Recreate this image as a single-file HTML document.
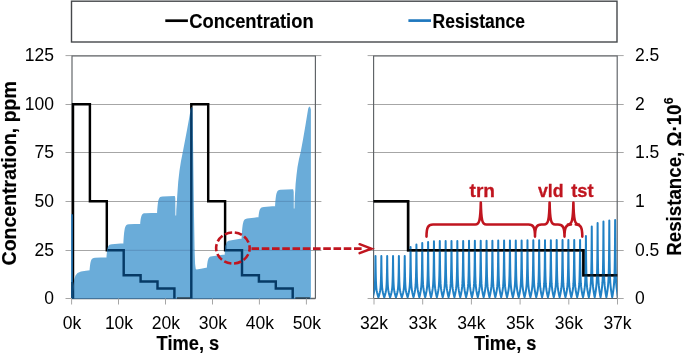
<!DOCTYPE html>
<html><head><meta charset="utf-8"><title>Concentration and Resistance</title>
<style>html,body{margin:0;padding:0;background:#fff}svg{display:block}text{font-family:"Liberation Sans",sans-serif}.b{font-weight:bold;stroke:#000;stroke-width:.15px}</style></head><body>
<svg width="685" height="354" viewBox="0 0 685 354">
<rect width="685" height="354" fill="#fff"/>
<rect x="71.5" y="1.2" width="545.5" height="40.8" fill="#fff" stroke="#45484b" stroke-width="1.4"/>
<path d="M65.5,55.6H321.4 M367.6,55.6H623.7 M65.5,104.5H321.4 M367.6,104.5H623.7 M65.5,152.5H321.4 M367.6,152.5H623.7 M65.5,201.5H321.4 M367.6,201.5H623.7 M65.5,250.5H321.4 M367.6,250.5H623.7" stroke="#a6a6a6" stroke-width="1" fill="none"/>
<path d="M72.0,298.5V56.0H315.4V298.5M315.4,298.5H311 M373.6,56.0H617.2V298.5H373.6Z" fill="none" stroke="#5d6165" stroke-width="1.15"/>
<defs><clipPath id="cb"><path d="M72.6,298.5 L73.2,288 L74.2,279.5 L75.5,275.5 L77.5,273 L81,271.6 L86,270.8 L89.9,270.2 L89.55,270.2 L89.67,268.76 L89.8,267.4 L89.95,266.03 L90.15,264.52 L90.35,263.29 L90.6,262.07 L90.85,261.13 L91.15,260.28 L91.55,259.48 L92.05,258.85 L92.65,258.41 L93.55,258.08 L95.05,257.85 L106.5,257.2 L106.9,257.7 L106.45,257.2 L106.57,255.7 L106.7,254.28 L106.85,252.86 L107.05,251.28 L107.25,249.99 L107.5,248.72 L107.75,247.73 L108.05,246.84 L108.45,246.0 L108.95,245.33 L109.55,244.86 L110.45,244.49 L111.95,244.23 L123.4,243.3 L123.8,243.8 L123.35,243.3 L123.47,241.06 L123.6,238.92 L123.75,236.8 L123.95,234.44 L124.15,232.52 L124.4,230.63 L124.65,229.17 L124.95,227.86 L125.35,226.63 L125.85,225.67 L126.45,225.0 L127.35,224.52 L128.85,224.24 L140.2,223.7 L140.6,224.2 L140.15,223.7 L140.27,222.47 L140.4,221.29 L140.55,220.12 L140.75,218.82 L140.95,217.76 L141.2,216.72 L141.45,215.91 L141.75,215.19 L142.15,214.51 L142.65,213.97 L143.25,213.6 L144.15,213.32 L145.65,213.14 L157.1,212.7 L157.5,213.2 L157.05,212.7 L157.17,210.79 L157.3,208.97 L157.45,207.16 L157.65,205.15 L157.85,203.52 L158.1,201.9 L158.35,200.66 L158.65,199.54 L159.05,198.49 L159.55,197.67 L160.15,197.1 L161.05,196.69 L162.55,196.44 L174.6,195.9 L175.0,196.4 L175.3,198.5 L175.4,215.6 L176.15,215.6 L176.3,210 L176.7,204 L177.2,196 L178.2,182 L179.5,170.5 L181,161 L183,151 L185,140.5 L187,130 L189,119 L190.8,108.6 L191.6,107.4 L192.5,107.8 L192.9,130 L193.4,170 L194.0,215 L194.6,250 L195.1,264 L195.7,268.8 L196.5,269.5 L201,268.8 L207.3,267.5 L206.85,267.5 L206.97,266.23 L207.1,265.02 L207.25,263.81 L207.45,262.45 L207.65,261.35 L207.9,260.25 L208.15,259.4 L208.45,258.62 L208.85,257.88 L209.35,257.28 L209.95,256.84 L210.85,256.46 L212.35,256.15 L224.7,254.5 L225.1,255.0 L224.65,254.5 L224.77,252.92 L224.9,251.41 L225.05,249.91 L225.25,248.23 L225.45,246.86 L225.7,245.5 L225.95,244.44 L226.25,243.47 L226.65,242.55 L227.15,241.8 L227.75,241.25 L228.65,240.79 L230.15,240.39 L241.6,238.5 L242.0,239.0 L241.55,238.5 L241.67,236.21 L241.8,234.03 L241.95,231.85 L242.15,229.43 L242.35,227.46 L242.6,225.51 L242.85,224.0 L243.15,222.63 L243.55,221.34 L244.05,220.31 L244.65,219.58 L245.55,219.01 L247.05,218.6 L258.5,217.1 L258.9,217.6 L258.45,217.1 L258.57,215.96 L258.7,214.87 L258.85,213.79 L259.05,212.58 L259.25,211.6 L259.5,210.62 L259.75,209.86 L260.05,209.18 L260.45,208.53 L260.95,208.0 L261.55,207.62 L262.45,207.32 L263.95,207.08 L275.1,206.1 L275.5,206.6 L275.05,206.1 L275.17,204.19 L275.3,202.37 L275.45,200.56 L275.65,198.55 L275.85,196.92 L276.1,195.3 L276.35,194.06 L276.65,192.93 L277.05,191.88 L277.55,191.06 L278.15,190.49 L279.05,190.07 L280.55,189.81 L292.9,189.2 L293.3,189.7 L293.7,192 L293.8,208.6 L294.5,208.6 L294.6,203 L294.9,196 L295.6,184 L296.5,175 L297.5,167 L299,159 L300.6,152.6 L303,139.5 L305.5,125 L308.2,108.5 L309.2,106.6 L310.2,107.2 L310.9,109.5 L310.9,298.5Z"/><rect x="71.3" y="215" width="1.6" height="84"/></clipPath><clipPath id="ce"><path d="M72.6,298.5 L73.2,288 L74.2,279.5 L75.5,275.5 L77.5,273 L81,271.6 L86,270.8 L89.9,270.2 L89.55,270.2 L89.67,268.76 L89.8,267.4 L89.95,266.03 L90.15,264.52 L90.35,263.29 L90.6,262.07 L90.85,261.13 L91.15,260.28 L91.55,259.48 L92.05,258.85 L92.65,258.41 L93.55,258.08 L95.05,257.85 L106.5,257.2 L106.9,257.7 L106.45,257.2 L106.57,255.7 L106.7,254.28 L106.85,252.86 L107.05,251.28 L107.25,249.99 L107.5,248.72 L107.75,247.73 L108.05,246.84 L108.45,246.0 L108.95,245.33 L109.55,244.86 L110.45,244.49 L111.95,244.23 L123.4,243.3 L123.8,243.8 L123.35,243.3 L123.47,241.06 L123.6,238.92 L123.75,236.8 L123.95,234.44 L124.15,232.52 L124.4,230.63 L124.65,229.17 L124.95,227.86 L125.35,226.63 L125.85,225.67 L126.45,225.0 L127.35,224.52 L128.85,224.24 L140.2,223.7 L140.6,224.2 L140.15,223.7 L140.27,222.47 L140.4,221.29 L140.55,220.12 L140.75,218.82 L140.95,217.76 L141.2,216.72 L141.45,215.91 L141.75,215.19 L142.15,214.51 L142.65,213.97 L143.25,213.6 L144.15,213.32 L145.65,213.14 L157.1,212.7 L157.5,213.2 L157.05,212.7 L157.17,210.79 L157.3,208.97 L157.45,207.16 L157.65,205.15 L157.85,203.52 L158.1,201.9 L158.35,200.66 L158.65,199.54 L159.05,198.49 L159.55,197.67 L160.15,197.1 L161.05,196.69 L162.55,196.44 L174.6,195.9 L175.0,196.4 L175.3,198.5 L175.4,215.6 L176.15,215.6 L176.3,210 L176.7,204 L177.2,196 L178.2,182 L179.5,170.5 L181,161 L183,151 L185,140.5 L187,130 L189,119 L190.8,108.6 L191.6,107.4 L192.5,107.8 L192.9,130 L193.4,170 L194.0,215 L194.6,250 L195.1,264 L195.7,268.8 L196.5,269.5 L201,268.8 L207.3,267.5 L206.85,267.5 L206.97,266.23 L207.1,265.02 L207.25,263.81 L207.45,262.45 L207.65,261.35 L207.9,260.25 L208.15,259.4 L208.45,258.62 L208.85,257.88 L209.35,257.28 L209.95,256.84 L210.85,256.46 L212.35,256.15 L224.7,254.5 L225.1,255.0 L224.65,254.5 L224.77,252.92 L224.9,251.41 L225.05,249.91 L225.25,248.23 L225.45,246.86 L225.7,245.5 L225.95,244.44 L226.25,243.47 L226.65,242.55 L227.15,241.8 L227.75,241.25 L228.65,240.79 L230.15,240.39 L241.6,238.5 L242.0,239.0 L241.55,238.5 L241.67,236.21 L241.8,234.03 L241.95,231.85 L242.15,229.43 L242.35,227.46 L242.6,225.51 L242.85,224.0 L243.15,222.63 L243.55,221.34 L244.05,220.31 L244.65,219.58 L245.55,219.01 L247.05,218.6 L258.5,217.1 L258.9,217.6 L258.45,217.1 L258.57,215.96 L258.7,214.87 L258.85,213.79 L259.05,212.58 L259.25,211.6 L259.5,210.62 L259.75,209.86 L260.05,209.18 L260.45,208.53 L260.95,208.0 L261.55,207.62 L262.45,207.32 L263.95,207.08 L275.1,206.1 L275.5,206.6 L275.05,206.1 L275.17,204.19 L275.3,202.37 L275.45,200.56 L275.65,198.55 L275.85,196.92 L276.1,195.3 L276.35,194.06 L276.65,192.93 L277.05,191.88 L277.55,191.06 L278.15,190.49 L279.05,190.07 L280.55,189.81 L292.9,189.2 L293.3,189.7 L293.7,192 L293.8,208.6 L294.5,208.6 L294.6,203 L294.9,196 L295.6,184 L296.5,175 L297.5,167 L299,159 L300.6,152.6 L303,139.5 L305.5,125 L308.2,108.5 L309.2,106.6 L310.2,107.2 L310.9,109.5 L310.9,298.5Z"/></clipPath><clipPath id="cl"><rect x="60" y="50" width="260" height="249.1"/></clipPath></defs>
<path d="M72.0,298.5H315.4" stroke="#63676a" stroke-width="1.3"/>
<g clip-path="url(#cl)">
<path d="M73.0,299.5V104.2H89.9V201.2H106.8V250.3H123.7V275.3H140.6V281.5H157.5V288.5H174.4V299.5M191.3,299.5V104.2H208.2V201.2H225.1V250.3H242.0V275.3H258.9V281.5H275.8V288.5H292.7V299.5" fill="none" stroke="#000" stroke-width="2.45" stroke-linejoin="miter"/>
<path d="M72.6,298.5 L73.2,288 L74.2,279.5 L75.5,275.5 L77.5,273 L81,271.6 L86,270.8 L89.9,270.2 L89.55,270.2 L89.67,268.76 L89.8,267.4 L89.95,266.03 L90.15,264.52 L90.35,263.29 L90.6,262.07 L90.85,261.13 L91.15,260.28 L91.55,259.48 L92.05,258.85 L92.65,258.41 L93.55,258.08 L95.05,257.85 L106.5,257.2 L106.9,257.7 L106.45,257.2 L106.57,255.7 L106.7,254.28 L106.85,252.86 L107.05,251.28 L107.25,249.99 L107.5,248.72 L107.75,247.73 L108.05,246.84 L108.45,246.0 L108.95,245.33 L109.55,244.86 L110.45,244.49 L111.95,244.23 L123.4,243.3 L123.8,243.8 L123.35,243.3 L123.47,241.06 L123.6,238.92 L123.75,236.8 L123.95,234.44 L124.15,232.52 L124.4,230.63 L124.65,229.17 L124.95,227.86 L125.35,226.63 L125.85,225.67 L126.45,225.0 L127.35,224.52 L128.85,224.24 L140.2,223.7 L140.6,224.2 L140.15,223.7 L140.27,222.47 L140.4,221.29 L140.55,220.12 L140.75,218.82 L140.95,217.76 L141.2,216.72 L141.45,215.91 L141.75,215.19 L142.15,214.51 L142.65,213.97 L143.25,213.6 L144.15,213.32 L145.65,213.14 L157.1,212.7 L157.5,213.2 L157.05,212.7 L157.17,210.79 L157.3,208.97 L157.45,207.16 L157.65,205.15 L157.85,203.52 L158.1,201.9 L158.35,200.66 L158.65,199.54 L159.05,198.49 L159.55,197.67 L160.15,197.1 L161.05,196.69 L162.55,196.44 L174.6,195.9 L175.0,196.4 L175.3,198.5 L175.4,215.6 L176.15,215.6 L176.3,210 L176.7,204 L177.2,196 L178.2,182 L179.5,170.5 L181,161 L183,151 L185,140.5 L187,130 L189,119 L190.8,108.6 L191.6,107.4 L192.5,107.8 L192.9,130 L193.4,170 L194.0,215 L194.6,250 L195.1,264 L195.7,268.8 L196.5,269.5 L201,268.8 L207.3,267.5 L206.85,267.5 L206.97,266.23 L207.1,265.02 L207.25,263.81 L207.45,262.45 L207.65,261.35 L207.9,260.25 L208.15,259.4 L208.45,258.62 L208.85,257.88 L209.35,257.28 L209.95,256.84 L210.85,256.46 L212.35,256.15 L224.7,254.5 L225.1,255.0 L224.65,254.5 L224.77,252.92 L224.9,251.41 L225.05,249.91 L225.25,248.23 L225.45,246.86 L225.7,245.5 L225.95,244.44 L226.25,243.47 L226.65,242.55 L227.15,241.8 L227.75,241.25 L228.65,240.79 L230.15,240.39 L241.6,238.5 L242.0,239.0 L241.55,238.5 L241.67,236.21 L241.8,234.03 L241.95,231.85 L242.15,229.43 L242.35,227.46 L242.6,225.51 L242.85,224.0 L243.15,222.63 L243.55,221.34 L244.05,220.31 L244.65,219.58 L245.55,219.01 L247.05,218.6 L258.5,217.1 L258.9,217.6 L258.45,217.1 L258.57,215.96 L258.7,214.87 L258.85,213.79 L259.05,212.58 L259.25,211.6 L259.5,210.62 L259.75,209.86 L260.05,209.18 L260.45,208.53 L260.95,208.0 L261.55,207.62 L262.45,207.32 L263.95,207.08 L275.1,206.1 L275.5,206.6 L275.05,206.1 L275.17,204.19 L275.3,202.37 L275.45,200.56 L275.65,198.55 L275.85,196.92 L276.1,195.3 L276.35,194.06 L276.65,192.93 L277.05,191.88 L277.55,191.06 L278.15,190.49 L279.05,190.07 L280.55,189.81 L292.9,189.2 L293.3,189.7 L293.7,192 L293.8,208.6 L294.5,208.6 L294.6,203 L294.9,196 L295.6,184 L296.5,175 L297.5,167 L299,159 L300.6,152.6 L303,139.5 L305.5,125 L308.2,108.5 L309.2,106.6 L310.2,107.2 L310.9,109.5 L310.9,298.5Z" fill="#6aacd9"/>
<rect x="71.5" y="215" width="1.2" height="84" fill="#3a8ccb"/>
<path d="M72.4,298.6H311" stroke="#3d6f98" stroke-width="0.9"/>
<path d="M72,104.4H312 M72,152.6H312 M72,201.4H312 M72,250.3H312" stroke="#5a92bd" stroke-width="1" clip-path="url(#ce)"/>
<path d="M73.0,299.5V104.2H89.9V201.2H106.8V250.3H123.7V275.3H140.6V281.5H157.5V288.5H174.4V299.5M191.3,299.5V104.2H208.2V201.2H225.1V250.3H242.0V275.3H258.9V281.5H275.8V288.5H292.7V299.5" fill="none" stroke="#063a66" stroke-width="2.45" stroke-linejoin="miter" clip-path="url(#cb)"/>
<path d="M177.0,297.9H190.1 M295.3,297.9H309.9" fill="none" stroke="#111" stroke-width="1.05"/>
</g>
<path d="M373.6,201.2H408.1V250.3H583.4V275.3H617.2" fill="none" stroke="#000" stroke-width="2.45"/>
<clipPath id="cr"><rect x="373.6" y="56.0" width="243.60000000000002" height="242.5"/></clipPath>
<path d="M366.73,297.3L367.15,296.1L367.55,294.7L367.85,293.5L368.15,292.2L368.40,290.9L368.65,289.3L368.85,287.5L369.05,284.6L369.20,281.3L369.35,276.3L369.45,271.5L369.55,264.9L369.65,255.9L369.75,264.9L369.85,271.5L369.95,276.3L370.10,281.3L370.25,284.6L370.45,287.5L370.65,289.3L370.90,290.9L371.15,292.2L371.45,293.5L371.75,294.7L372.15,296.1L372.58,297.3L373.00,296.1L373.40,294.7L373.70,293.5L374.00,292.2L374.25,290.9L374.50,289.3L374.70,287.5L374.90,284.6L375.05,281.3L375.20,276.3L375.30,271.5L375.40,264.9L375.50,255.9L375.60,264.9L375.70,271.5L375.80,276.3L375.95,281.3L376.10,284.6L376.30,287.5L376.50,289.3L376.75,290.9L377.00,292.2L377.30,293.5L377.60,294.7L378.00,296.1L378.42,297.3L378.85,296.1L379.25,294.7L379.55,293.5L379.85,292.2L380.10,290.9L380.35,289.3L380.55,287.5L380.75,284.6L380.90,281.3L381.05,276.3L381.15,271.5L381.25,264.9L381.35,255.9L381.45,264.9L381.55,271.5L381.65,276.3L381.80,281.3L381.95,284.6L382.15,287.5L382.35,289.3L382.60,290.9L382.85,292.2L383.15,293.5L383.45,294.7L383.85,296.1L384.27,297.3L384.69,296.1L385.09,294.7L385.39,293.5L385.69,292.2L385.94,290.9L386.19,289.3L386.39,287.5L386.59,284.6L386.74,281.3L386.89,276.3L386.99,271.5L387.09,264.9L387.19,255.9L387.29,264.9L387.39,271.5L387.49,276.3L387.64,281.3L387.79,284.6L387.99,287.5L388.19,289.3L388.44,290.9L388.69,292.2L388.99,293.5L389.29,294.7L389.69,296.1L390.11,297.3L390.54,296.1L390.94,294.7L391.24,293.5L391.54,292.2L391.79,290.9L392.04,289.3L392.24,287.5L392.44,284.6L392.59,281.3L392.74,276.3L392.84,271.5L392.94,264.9L393.04,255.9L393.14,264.9L393.24,271.5L393.34,276.3L393.49,281.3L393.64,284.6L393.84,287.5L394.04,289.3L394.29,290.9L394.54,292.2L394.84,293.5L395.14,294.7L395.54,296.1L395.96,297.3L396.38,296.1L396.78,294.7L397.08,293.5L397.38,292.2L397.63,290.9L397.88,289.3L398.08,287.5L398.28,284.6L398.43,281.3L398.58,276.3L398.68,271.5L398.78,264.9L398.88,255.9L398.98,264.9L399.08,271.5L399.18,276.3L399.33,281.3L399.48,284.6L399.68,287.5L399.88,289.3L400.13,290.9L400.38,292.2L400.68,293.5L400.98,294.7L401.38,296.1L401.80,297.3L402.23,296.1L402.62,294.7L402.93,293.5L403.23,292.2L403.48,290.9L403.73,289.3L403.93,287.5L404.12,284.6L404.28,281.3L404.43,276.3L404.53,271.5L404.62,264.9L404.73,255.9L404.83,264.9L404.93,271.5L405.03,276.3L405.18,281.3L405.33,284.6L405.53,287.5L405.73,289.3L405.98,290.9L406.23,292.2L406.53,293.5L406.83,294.7L407.23,296.1L407.65,297.3L408.07,295.8L408.47,294.1L408.77,292.7L409.07,291.1L409.32,289.6L409.57,287.6L409.77,285.3L409.97,281.9L410.12,277.9L410.27,271.8L410.37,265.9L410.47,257.9L410.57,246.9L410.67,257.9L410.77,265.9L410.87,271.8L411.02,277.9L411.17,281.9L411.37,285.3L411.57,287.6L411.82,289.6L412.07,291.1L412.37,292.7L412.67,294.1L413.07,295.8L413.49,297.3L413.92,295.7L414.31,293.9L414.62,292.5L414.92,290.8L415.17,289.2L415.42,287.1L415.62,284.7L415.81,281.1L415.97,276.9L416.12,270.5L416.22,264.3L416.31,255.9L416.42,244.4L416.52,255.9L416.62,264.3L416.72,270.5L416.87,276.9L417.02,281.1L417.22,284.7L417.42,287.1L417.67,289.2L417.92,290.8L418.22,292.5L418.52,293.9L418.92,295.7L419.34,297.3L419.76,295.7L420.16,293.8L420.46,292.3L420.76,290.6L421.01,289.0L421.26,286.8L421.46,284.4L421.66,280.6L421.81,276.3L421.96,269.7L422.06,263.4L422.16,254.7L422.26,242.9L422.36,254.7L422.46,263.4L422.56,269.7L422.71,276.3L422.86,280.6L423.06,284.4L423.26,286.8L423.51,289.0L423.76,290.6L424.06,292.3L424.36,293.8L424.76,295.7L425.18,297.3L425.61,295.7L426.00,293.8L426.31,292.2L426.61,290.5L426.86,288.8L427.11,286.6L427.31,284.1L427.50,280.3L427.66,275.9L427.81,269.2L427.91,262.7L428.00,254.0L428.11,241.9L428.21,254.0L428.31,262.7L428.41,269.2L428.56,275.9L428.71,280.3L428.91,284.1L429.11,286.6L429.36,288.8L429.61,290.5L429.91,292.2L430.21,293.8L430.61,295.7L431.03,297.3L431.45,295.7L431.85,293.7L432.15,292.2L432.45,290.4L432.70,288.7L432.95,286.5L433.15,284.0L433.35,280.2L433.50,275.7L433.65,268.9L433.75,262.4L433.85,253.5L433.95,241.3L434.05,253.5L434.15,262.4L434.25,268.9L434.40,275.7L434.55,280.2L434.75,284.0L434.95,286.5L435.20,288.7L435.45,290.4L435.75,292.2L436.05,293.7L436.45,295.7L436.87,297.3L437.30,295.6L437.69,293.7L438.00,292.1L438.30,290.4L438.55,288.7L438.80,286.5L439.00,283.9L439.19,280.1L439.35,275.6L439.50,268.8L439.60,262.3L439.69,253.3L439.80,241.1L439.90,253.3L440.00,262.3L440.10,268.8L440.25,275.6L440.40,280.1L440.60,283.9L440.80,286.5L441.05,288.7L441.30,290.4L441.60,292.1L441.90,293.7L442.30,295.6L442.72,297.3L443.14,295.6L443.54,293.7L443.84,292.1L444.14,290.4L444.39,288.7L444.64,286.5L444.84,283.9L445.04,280.1L445.19,275.6L445.34,268.8L445.44,262.2L445.54,253.3L445.64,241.0L445.74,253.3L445.84,262.2L445.94,268.8L446.09,275.6L446.24,280.1L446.44,283.9L446.64,286.5L446.89,288.7L447.14,290.4L447.44,292.1L447.74,293.7L448.14,295.6L448.56,297.3L448.99,295.6L449.38,293.7L449.69,292.1L449.99,290.4L450.24,288.7L450.49,286.4L450.69,283.9L450.88,280.1L451.04,275.6L451.19,268.8L451.29,262.2L451.38,253.2L451.49,241.0L451.59,253.2L451.69,262.2L451.79,268.8L451.94,275.6L452.09,280.1L452.29,283.9L452.49,286.4L452.74,288.7L452.99,290.4L453.29,292.1L453.59,293.7L453.99,295.6L454.41,297.3L454.83,295.6L455.23,293.7L455.53,292.1L455.83,290.4L456.08,288.7L456.33,286.4L456.53,283.9L456.73,280.1L456.88,275.6L457.03,268.7L457.13,262.2L457.23,253.2L457.33,240.9L457.43,253.2L457.53,262.2L457.63,268.7L457.78,275.6L457.93,280.1L458.13,283.9L458.33,286.4L458.58,288.7L458.83,290.4L459.13,292.1L459.43,293.7L459.83,295.6L460.25,297.3L460.68,295.6L461.07,293.7L461.38,292.1L461.68,290.4L461.93,288.6L462.18,286.4L462.38,283.9L462.57,280.0L462.73,275.5L462.88,268.7L462.98,262.1L463.07,253.2L463.18,240.9L463.28,253.2L463.38,262.1L463.48,268.7L463.62,275.5L463.78,280.0L463.98,283.9L464.18,286.4L464.43,288.6L464.68,290.4L464.98,292.1L465.28,293.7L465.68,295.6L466.10,297.3L466.52,295.6L466.92,293.7L467.22,292.1L467.52,290.4L467.77,288.6L468.02,286.4L468.22,283.9L468.42,280.0L468.57,275.5L468.72,268.7L468.82,262.1L468.92,253.1L469.02,240.8L469.12,253.1L469.22,262.1L469.32,268.7L469.47,275.5L469.62,280.0L469.82,283.9L470.02,286.4L470.27,288.6L470.52,290.4L470.82,292.1L471.12,293.7L471.52,295.6L471.94,297.3L472.37,295.6L472.76,293.7L473.06,292.1L473.37,290.4L473.62,288.6L473.87,286.4L474.06,283.9L474.26,280.0L474.42,275.5L474.56,268.7L474.67,262.1L474.76,253.1L474.87,240.8L474.97,253.1L475.06,262.1L475.17,268.7L475.31,275.5L475.47,280.0L475.67,283.9L475.87,286.4L476.12,288.6L476.37,290.4L476.67,292.1L476.97,293.7L477.37,295.6L477.79,297.3L478.21,295.6L478.61,293.7L478.91,292.1L479.21,290.4L479.46,288.6L479.71,286.4L479.91,283.9L480.11,280.0L480.26,275.5L480.41,268.6L480.51,262.0L480.61,253.1L480.71,240.8L480.81,253.1L480.91,262.0L481.01,268.6L481.16,275.5L481.31,280.0L481.51,283.9L481.71,286.4L481.96,288.6L482.21,290.4L482.51,292.1L482.81,293.7L483.21,295.6L483.63,297.3L484.06,295.6L484.45,293.7L484.75,292.1L485.06,290.3L485.31,288.6L485.56,286.4L485.75,283.9L485.95,280.0L486.11,275.5L486.25,268.6L486.36,262.0L486.45,253.0L486.56,240.7L486.66,253.0L486.75,262.0L486.86,268.6L487.00,275.5L487.16,280.0L487.36,283.9L487.56,286.4L487.81,288.6L488.06,290.3L488.36,292.1L488.66,293.7L489.06,295.6L489.48,297.3L489.90,295.6L490.30,293.7L490.60,292.1L490.90,290.3L491.15,288.6L491.40,286.4L491.60,283.8L491.80,280.0L491.95,275.5L492.10,268.6L492.20,262.0L492.30,253.0L492.40,240.7L492.50,253.0L492.60,262.0L492.70,268.6L492.85,275.5L493.00,280.0L493.20,283.8L493.40,286.4L493.65,288.6L493.90,290.3L494.20,292.1L494.50,293.7L494.90,295.6L495.32,297.3L495.75,295.6L496.14,293.7L496.44,292.1L496.75,290.3L497.00,288.6L497.25,286.4L497.44,283.8L497.64,279.9L497.80,275.4L497.94,268.6L498.05,261.9L498.14,252.9L498.25,240.6L498.35,252.9L498.44,261.9L498.55,268.6L498.69,275.4L498.85,279.9L499.05,283.8L499.25,286.4L499.50,288.6L499.75,290.3L500.05,292.1L500.35,293.7L500.75,295.6L501.17,297.3L501.59,295.6L501.99,293.7L502.29,292.1L502.59,290.3L502.84,288.6L503.09,286.4L503.29,283.8L503.49,279.9L503.64,275.4L503.79,268.5L503.89,261.9L503.99,252.9L504.09,240.5L504.19,252.9L504.29,261.9L504.39,268.5L504.54,275.4L504.69,279.9L504.89,283.8L505.09,286.4L505.34,288.6L505.59,290.3L505.89,292.1L506.19,293.7L506.59,295.6L507.01,297.3L507.44,295.6L507.83,293.7L508.13,292.1L508.44,290.3L508.69,288.6L508.94,286.3L509.13,283.8L509.33,279.9L509.49,275.4L509.63,268.5L509.74,261.9L509.83,252.9L509.94,240.5L510.04,252.9L510.13,261.9L510.24,268.5L510.38,275.4L510.54,279.9L510.74,283.8L510.94,286.3L511.19,288.6L511.44,290.3L511.74,292.1L512.03,293.7L512.43,295.6L512.86,297.3L513.28,295.6L513.68,293.7L513.98,292.1L514.28,290.3L514.53,288.6L514.78,286.3L514.98,283.8L515.18,279.9L515.33,275.4L515.48,268.5L515.58,261.8L515.68,252.8L515.78,240.4L515.88,252.8L515.98,261.8L516.08,268.5L516.23,275.4L516.38,279.9L516.58,283.8L516.78,286.3L517.03,288.6L517.28,290.3L517.58,292.1L517.88,293.7L518.28,295.6L518.70,297.3L519.12,295.6L519.52,293.7L519.83,292.1L520.12,290.3L520.38,288.6L520.62,286.3L520.83,283.8L521.02,279.9L521.17,275.4L521.33,268.5L521.42,261.8L521.52,252.8L521.62,240.4L521.73,252.8L521.83,261.8L521.92,268.5L522.08,275.4L522.23,279.9L522.42,283.8L522.62,286.3L522.88,288.6L523.12,290.3L523.42,292.1L523.73,293.7L524.12,295.6L524.55,297.3L524.97,295.6L525.37,293.7L525.67,292.1L525.97,290.3L526.22,288.6L526.47,286.3L526.67,283.8L526.87,279.9L527.02,275.3L527.17,268.4L527.27,261.8L527.37,252.7L527.47,240.3L527.57,252.7L527.67,261.8L527.77,268.4L527.92,275.3L528.07,279.9L528.27,283.8L528.47,286.3L528.72,288.6L528.97,290.3L529.27,292.1L529.57,293.7L529.97,295.6L530.39,297.3L530.82,295.6L531.22,293.7L531.52,292.1L531.82,290.3L532.07,288.6L532.32,286.3L532.52,283.8L532.72,279.9L532.87,275.3L533.02,268.4L533.12,261.8L533.22,252.7L533.32,240.3L533.42,252.7L533.52,261.8L533.62,268.4L533.77,275.3L533.92,279.9L534.12,283.8L534.32,286.3L534.57,288.6L534.82,290.3L535.12,292.1L535.42,293.7L535.82,295.6L536.24,297.3L536.66,295.6L537.06,293.7L537.36,292.1L537.66,290.3L537.91,288.5L538.16,286.3L538.36,283.7L538.56,279.8L538.71,275.3L538.86,268.4L538.96,261.7L539.06,252.7L539.16,240.2L539.26,252.7L539.36,261.7L539.46,268.4L539.61,275.3L539.76,279.8L539.96,283.7L540.16,286.3L540.41,288.5L540.66,290.3L540.96,292.1L541.26,293.7L541.66,295.6L542.08,297.3L542.50,295.6L542.90,293.7L543.21,292.1L543.50,290.3L543.75,288.5L544.00,286.3L544.21,283.7L544.40,279.8L544.55,275.3L544.71,268.4L544.80,261.7L544.90,252.6L545.00,240.2L545.11,252.6L545.21,261.7L545.30,268.4L545.46,275.3L545.61,279.8L545.80,283.7L546.00,286.3L546.25,288.5L546.50,290.3L546.80,292.1L547.11,293.7L547.50,295.6L547.93,297.3L548.35,295.6L548.75,293.7L549.05,292.1L549.35,290.3L549.60,288.5L549.85,286.3L550.05,283.7L550.25,279.8L550.40,275.3L550.55,268.3L550.65,261.7L550.75,252.6L550.85,240.2L550.95,252.6L551.05,261.7L551.15,268.3L551.30,275.3L551.45,279.8L551.65,283.7L551.85,286.3L552.10,288.5L552.35,290.3L552.65,292.1L552.95,293.7L553.35,295.6L553.77,297.3L554.19,295.6L554.59,293.7L554.89,292.1L555.19,290.3L555.44,288.5L555.69,286.3L555.89,283.7L556.09,279.8L556.24,275.2L556.39,268.3L556.49,261.6L556.59,252.5L556.69,240.1L556.79,252.5L556.89,261.6L556.99,268.3L557.14,275.2L557.29,279.8L557.49,283.7L557.69,286.3L557.94,288.5L558.19,290.3L558.49,292.1L558.79,293.7L559.19,295.6L559.62,297.3L560.04,295.6L560.44,293.7L560.74,292.1L561.04,290.3L561.29,288.5L561.54,286.3L561.74,283.7L561.94,279.8L562.09,275.2L562.24,268.3L562.34,261.6L562.44,252.5L562.54,240.0L562.64,252.5L562.74,261.6L562.84,268.3L562.99,275.2L563.14,279.8L563.34,283.7L563.54,286.3L563.79,288.5L564.04,290.3L564.34,292.1L564.64,293.7L565.04,295.6L565.46,297.3L565.88,295.6L566.28,293.7L566.59,292.0L566.88,290.3L567.13,288.5L567.38,286.3L567.59,283.7L567.78,279.8L567.93,275.2L568.09,268.3L568.18,261.6L568.28,252.5L568.38,240.0L568.49,252.5L568.59,261.6L568.68,268.3L568.84,275.2L568.99,279.8L569.18,283.7L569.38,286.3L569.63,288.5L569.88,290.3L570.18,292.0L570.49,293.7L570.88,295.6L571.31,297.3L571.73,295.6L572.13,293.7L572.43,292.0L572.73,290.3L572.98,288.5L573.23,286.2L573.43,283.7L573.63,279.7L573.78,275.2L573.93,268.2L574.03,261.5L574.13,252.4L574.23,239.9L574.33,252.4L574.43,261.5L574.53,268.2L574.68,275.2L574.83,279.7L575.03,283.7L575.23,286.2L575.48,288.5L575.73,290.3L576.03,292.0L576.33,293.7L576.73,295.6L577.15,297.3L577.58,295.6L577.98,293.7L578.28,292.0L578.58,290.2L578.83,288.5L579.08,286.2L579.28,283.7L579.48,279.7L579.62,275.2L579.78,268.2L579.88,261.5L579.98,252.4L580.08,239.9L580.18,252.4L580.28,261.5L580.38,268.2L580.53,275.2L580.68,279.7L580.88,283.7L581.08,286.2L581.33,288.5L581.58,290.2L581.88,292.0L582.18,293.7L582.58,295.6L583.00,297.3L583.42,295.5L583.82,293.4L584.12,291.7L584.42,289.8L584.67,287.9L584.92,285.5L585.12,282.7L585.32,278.5L585.47,273.6L585.62,266.2L585.72,259.0L585.82,249.3L585.92,235.9L586.02,249.3L586.12,259.0L586.22,266.2L586.37,273.6L586.52,278.5L586.72,282.7L586.92,285.5L587.17,287.9L587.42,289.8L587.72,291.7L588.02,293.4L588.42,295.5L588.84,297.3L589.26,295.2L589.66,292.8L589.97,290.8L590.26,288.6L590.51,286.4L590.76,283.6L590.97,280.5L591.16,275.6L591.31,270.0L591.47,261.4L591.56,253.1L591.66,241.9L591.76,226.5L591.87,241.9L591.97,253.1L592.06,261.4L592.22,270.0L592.37,275.6L592.56,280.5L592.76,283.6L593.01,286.4L593.26,288.6L593.56,290.8L593.87,292.8L594.26,295.2L594.69,297.3L595.11,295.1L595.51,292.6L595.81,290.5L596.11,288.2L596.36,285.9L596.61,283.0L596.81,279.6L597.01,274.5L597.16,268.6L597.31,259.6L597.41,250.9L597.51,239.1L597.61,222.9L597.71,239.1L597.81,250.9L597.91,259.6L598.06,268.6L598.21,274.5L598.41,279.6L598.61,283.0L598.86,285.9L599.11,288.2L599.41,290.5L599.71,292.6L600.11,295.1L600.53,297.3L600.95,295.1L601.35,292.5L601.65,290.4L601.95,288.0L602.20,285.7L602.45,282.7L602.65,279.3L602.85,274.1L603.00,268.1L603.15,258.9L603.25,250.0L603.35,238.0L603.45,221.5L603.55,238.0L603.65,250.0L603.75,258.9L603.90,268.1L604.05,274.1L604.25,279.3L604.45,282.7L604.70,285.7L604.95,288.0L605.25,290.4L605.55,292.5L605.95,295.1L606.38,297.3L606.80,295.0L607.20,292.4L607.50,290.3L607.80,287.9L608.05,285.5L608.30,282.5L608.50,279.1L608.70,273.8L608.85,267.7L609.00,258.4L609.10,249.4L609.20,237.2L609.30,220.5L609.40,237.2L609.50,249.4L609.60,258.4L609.75,267.7L609.90,273.8L610.10,279.1L610.30,282.5L610.55,285.5L610.80,287.9L611.10,290.3L611.40,292.4L611.80,295.0L612.22,297.3L612.64,295.0L613.04,292.4L613.35,290.2L613.64,287.8L613.89,285.4L614.14,282.4L614.35,278.9L614.54,273.6L614.69,267.5L614.85,258.1L614.94,249.0L615.04,236.7L615.14,219.9L615.25,236.7L615.35,249.0L615.44,258.1L615.60,267.5L615.75,273.6L615.94,278.9L616.14,282.4L616.39,285.4L616.64,287.8L616.94,290.2L617.25,292.4L617.64,295.0L618.07,297.3L618.49,295.0L618.89,292.4L619.19,290.2L619.49,287.7L619.74,285.4L619.99,282.3L620.19,278.8L620.39,273.5L620.54,267.3L620.69,257.9L620.79,248.8L620.89,236.4L620.99,219.5L621.09,236.4L621.19,248.8L621.29,257.9L621.44,267.3L621.59,273.5L621.79,278.8L621.99,282.3L622.24,285.4L622.49,287.7L622.79,290.2L623.09,292.4L623.49,295.0L623.91,297.3" fill="none" stroke="#2181c5" stroke-width="2.0" stroke-linejoin="round" clip-path="url(#cr)"/>
<path d="M373.6,201.2H408.1V250.3H583.4V275.3H617.2" fill="none" stroke="#000" stroke-width="2.45" opacity="0.7"/>
<rect x="71.2" y="214" width="1.3" height="84.8" fill="#2f7fbe"/><rect x="71.2" y="282" width="1.5" height="16.9" fill="#0b4270"/>
<path d="M65.5,298.5H72.0 M617.2,298.5H623.7 M367.6,298.5H373.6 M71.6,298.5V304.5 M118.5,298.5V304.5 M165.5,298.5V304.5 M212.5,298.5V304.5 M259.4,298.5V304.5 M306.4,298.5V304.5 M374.0,298.5V304.5 M422.7,298.5V304.5 M471.4,298.5V304.5 M520.1,298.5V304.5 M568.8,298.5V304.5 M617.5,298.5V304.5" stroke="#a6a6a6" stroke-width="1" fill="none"/>
<text x="54" y="61.3" font-size="17.5" text-anchor="end" fill="#000">125</text>
<text x="54" y="109.7" font-size="17.5" text-anchor="end" fill="#000">100</text>
<text x="54" y="157.9" font-size="17.5" text-anchor="end" fill="#000">75</text>
<text x="54" y="206.7" font-size="17.5" text-anchor="end" fill="#000">50</text>
<text x="54" y="255.6" font-size="17.5" text-anchor="end" fill="#000">25</text>
<text x="54" y="303.8" font-size="17.5" text-anchor="end" fill="#000">0</text>
<text x="635" y="61.3" font-size="17.5" fill="#000">2.5</text>
<text x="635" y="109.7" font-size="17.5" fill="#000">2</text>
<text x="635" y="157.9" font-size="17.5" fill="#000">1.5</text>
<text x="635" y="206.7" font-size="17.5" fill="#000">1</text>
<text x="635" y="255.6" font-size="17.5" fill="#000">0.5</text>
<text x="635" y="303.8" font-size="17.5" fill="#000">0</text>
<text x="72.0" y="329" font-size="17.5" text-anchor="middle" fill="#000">0k</text>
<text x="119.0" y="329" font-size="17.5" text-anchor="middle" fill="#000">10k</text>
<text x="165.9" y="329" font-size="17.5" text-anchor="middle" fill="#000">20k</text>
<text x="212.9" y="329" font-size="17.5" text-anchor="middle" fill="#000">30k</text>
<text x="259.8" y="329" font-size="17.5" text-anchor="middle" fill="#000">40k</text>
<text x="306.8" y="329" font-size="17.5" text-anchor="middle" fill="#000">50k</text>
<text x="374.0" y="329" font-size="17.5" text-anchor="middle" fill="#000">32k</text>
<text x="422.7" y="329" font-size="17.5" text-anchor="middle" fill="#000">33k</text>
<text x="471.4" y="329" font-size="17.5" text-anchor="middle" fill="#000">34k</text>
<text x="520.1" y="329" font-size="17.5" text-anchor="middle" fill="#000">35k</text>
<text x="568.8" y="329" font-size="17.5" text-anchor="middle" fill="#000">36k</text>
<text x="617.5" y="329" font-size="17.5" text-anchor="middle" fill="#000">37k</text>
<text x="156.6" y="350" font-size="20" class="b" textLength="62.7" lengthAdjust="spacingAndGlyphs">Time, s</text>
<text x="474" y="350" font-size="20" class="b" textLength="62.4" lengthAdjust="spacingAndGlyphs">Time, s</text>
<text transform="translate(16.2,265.4) rotate(-90)" font-size="20" class="b" textLength="184.2" lengthAdjust="spacingAndGlyphs">Concentration, ppm</text>
<text transform="translate(680.6,255.7) rotate(-90)" font-size="20" class="b" textLength="151.2" lengthAdjust="spacingAndGlyphs">Resistance, Ω·10</text>
<text transform="translate(672.8,104.3) rotate(-90)" font-size="12.2" class="b" style="stroke-width:.2px">6</text>
<path d="M165.3,20.7H187.9" stroke="#000" stroke-width="2.7"/>
<text x="189.3" y="27.8" font-size="20" class="b" textLength="124.3" lengthAdjust="spacingAndGlyphs">Concentration</text>
<path d="M408.4,20.6H431" stroke="#1f78be" stroke-width="2.7"/>
<text x="432.6" y="27.8" font-size="20" class="b" textLength="92.3" lengthAdjust="spacingAndGlyphs">Resistance</text>
<ellipse cx="232.9" cy="248" rx="16.75" ry="15.55" fill="none" stroke="#c0151f" stroke-width="2.6" stroke-dasharray="7.4 2.76" stroke-dashoffset="3.7"/>
<path d="M251.5,248.6H362" fill="none" stroke="#c0151f" stroke-width="2.6" stroke-dasharray="7.6 2.65"/>
<path d="M359.6,244.2 L371.4,248.65 L359.6,253.1" fill="none" stroke="#c0151f" stroke-width="2.5" stroke-linejoin="miter" stroke-linecap="round"/>
<path d="M426.5,236.6C426.5,227.5 428.0,224.5 433.0,224.5H475.3C479.3,224.5 480.5,220.5 480.8,202.6C481.1,220.5 482.3,224.5 486.3,224.5H528.5C533.5,224.5 535,227.5 535,236.6 M535,236.6C535,227.5 536.5,224.5 541.5,224.5H544.1C548.1,224.5 549.3000000000001,220.5 549.6,202.6C549.9,220.5 551.1,224.5 555.1,224.5H558.0C563.0,224.5 564.5,227.5 564.5,236.6 M564.5,236.6C564.5,227.5 566.0,224.5 571.0,224.5H567.9C571.9,224.5 573.1,220.5 573.4,202.6C573.6999999999999,220.5 574.9,224.5 578.9,224.5H575.8C580.8,224.5 582.3,227.5 582.3,236.6" fill="none" stroke="#c0151f" stroke-width="2.6" stroke-linejoin="round" stroke-linecap="round"/>
<text x="469.6" y="197.4" font-size="19" font-weight="bold" stroke="#c0151f" stroke-width="0.3" fill="#c0151f" textLength="25.4" lengthAdjust="spacingAndGlyphs">trn</text>
<text x="537.9" y="197.4" font-size="19" font-weight="bold" stroke="#c0151f" stroke-width="0.3" fill="#c0151f" textLength="25.6" lengthAdjust="spacingAndGlyphs">vld</text>
<text x="571.3" y="197.4" font-size="19" font-weight="bold" stroke="#c0151f" stroke-width="0.3" fill="#c0151f" textLength="22.3" lengthAdjust="spacingAndGlyphs">tst</text>
</svg></body></html>
